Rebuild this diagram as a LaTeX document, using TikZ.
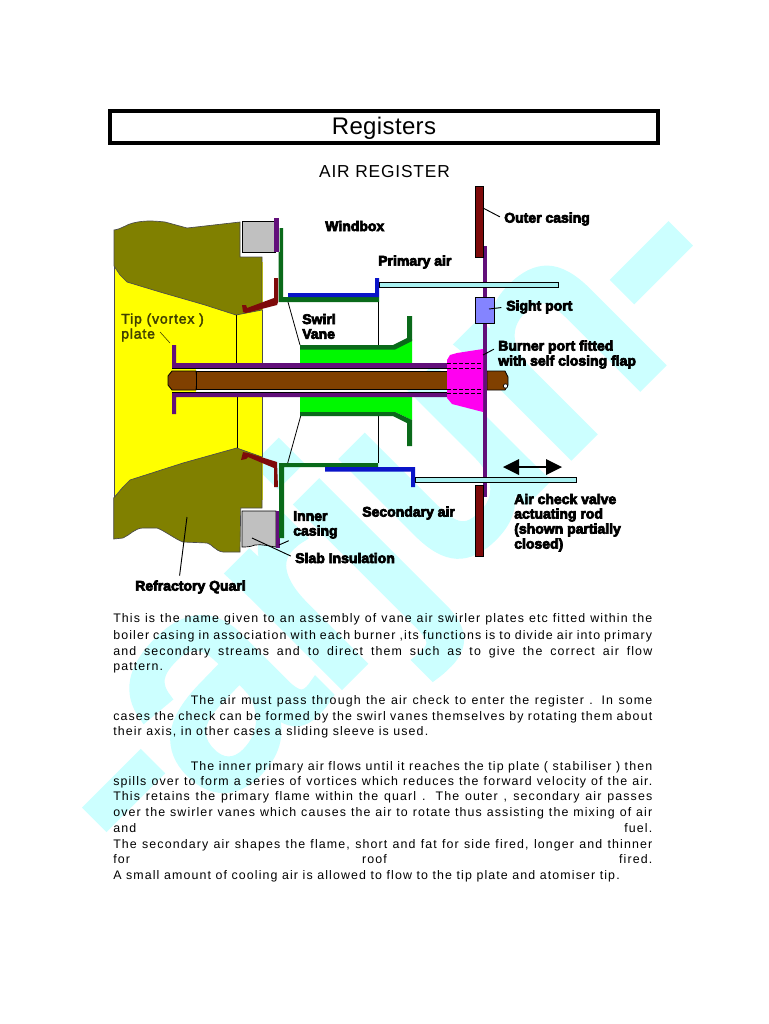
\documentclass[tikz,border=0pt]{standalone}
\usepackage{fontspec}
\setmainfont{Liberation Sans}
\newfontfamily\bodyf[LetterSpace=9]{Liberation Sans}
\newfontfamily\titlef[LetterSpace=1.5]{Liberation Sans}
\newfontfamily\subf[LetterSpace=4.8]{Liberation Sans}
\newfontfamily\labf[FakeBold=5]{Liberation Sans Bold}
\newfontfamily\tipf[LetterSpace=6,FakeBold=2.5]{Liberation Sans}
\newfontfamily\wmf[FakeBold=4]{Liberation Sans}
\definecolor{wm}{HTML}{CCFFFF}
\definecolor{tipy}{HTML}{FFFF00}
\definecolor{quarl}{HTML}{808000}
\definecolor{dred}{HTML}{7E0A0A}
\definecolor{purp}{HTML}{620F7A}
\definecolor{dgreen}{HTML}{0A6A1A}
\definecolor{brgreen}{HTML}{00F800}
\definecolor{dblue}{HTML}{0A14C8}
\definecolor{rodc}{HTML}{A8F0F0}
\definecolor{magn}{HTML}{FF00F0}
\definecolor{brn}{HTML}{804000}
\definecolor{slab}{HTML}{C0C0C0}
\definecolor{port}{HTML}{8484FF}
\tikzset{
  lab/.style={anchor=west,inner sep=0pt,font=\labf\fontsize{10.5}{11}\selectfont,text=black},
  tiplab/.style={anchor=west,inner sep=0pt,font=\tipf\fontsize{10.5}{11}\selectfont,text=black!50!quarl},
  bl/.style={anchor=base west,inner sep=0pt},
  leader/.style={draw=black,line width=0.7pt,shorten >=3.5pt},
  thin line/.style={draw=black,line width=0.6pt},
  edge/.style={draw=black!70,line width=0.5pt},
  rod/.style={fill=rodc,draw=black,line width=0.55pt},
}
\newcommand{\jl}[1]{\hbox to 404.25pt{\bodyf\fontsize{9.3}{11}\selectfont #1}}
\newcommand{\il}[1]{\hbox to 346.1pt{\bodyf\fontsize{9.3}{11}\selectfont #1}}
\newcommand{\pl}[1]{\hbox{\bodyf\fontsize{9.3}{11}\selectfont #1}}
\begin{document}
\begin{tikzpicture}[x=0.75pt,y=-0.75pt]
\useasboundingbox (0,0) rectangle (768,1024);
\fill[white] (0,0) rectangle (768,1024);
% watermark
\node[inner sep=0pt,rotate=45,text=wm,font=\wmf\fontsize{219}{219}\selectfont] (wmark) at (389,528) {-arjun-};
% title
\node[draw=black,line width=2.4pt,minimum width=411pt,minimum height=24pt,inner sep=0pt] (titlebox) at (384,127) {};
\node[font=\titlef\fontsize{18}{20}\selectfont,inner sep=0pt] (title) at (384,128) {Registers};
\node[font=\subf\fontsize{13}{14}\selectfont,inner sep=0pt] (sub) at (384.5,171.5) {AIR REGISTER};
% yellow tip region
\fill[tipy] (114,262) -- (262.5,262) -- (262.5,500) -- (114,500) -- cycle;
\draw[edge] (114,262) -- (114,500);
\fill[white] (196,369) rectangle (262.5,392);
% quarl
\draw[edge,fill=quarl] (114,230) .. controls (122,229) and (127,224) .. (133,223) .. controls (145,220) and (155,221) .. (165,222) -- (187,228) -- (205,226) -- (240,222)
  -- (240,257) -- (262,257) -- (262,310) -- (236,315) -- (205,305) -- (160,292) -- (127,282) -- (120,275) -- (114,266) -- cycle;
\draw[edge,fill=quarl] (236.7,448) -- (262,457) -- (262,508) -- (240.7,508) -- (240,552) -- (223,552)
  .. controls (215,551) and (212,544) .. (207,543) -- (183,542) .. controls (175,539) and (165,531) .. (157,528)
  -- (143,528) .. controls (135,528) and (130,535) .. (123,538) -- (113.7,539) -- (113.7,498) -- (123,487) -- (130,480) -- (183,463) -- cycle;
\draw[thin line] (236,315) -- (236,363) (237.5,397) -- (237.5,448);
\draw[edge] (262.5,310) -- (262.5,363) (262.5,397) -- (262.5,457);
% white gap left of vane
\fill[white] (263,363) rectangle (300,397);
% slabs and casing
\draw[black,line width=0.5pt,fill=slab] (242,221) -- (275,221) -- (275,252) -- (242,252) -- cycle;
\fill[purp] (274,218) rectangle (279,252);
\draw[black,line width=0.5pt,fill=slab] (242,511) -- (276,511) -- (276,547) .. controls (268,546) and (262,544) .. (255,545) .. controls (250,547) and (246,547) .. (242,547) -- cycle;
\fill[purp] (276,511) rectangle (280,548);
% dark green casing
\fill[dgreen] (279.5,228) -- (283,228) -- (283,297) -- (379,297) -- (379,302) -- (278.5,302) -- (278.5,252) -- (279.5,252) -- cycle;
\fill[dgreen] (279,463) -- (378,463) -- (378,467) -- (284,467) -- (284,538) -- (279,538) -- cycle;
\fill[dblue] (288,293) -- (375,293) -- (375,278) -- (379,278) -- (379,297) -- (288,297) -- cycle;
\fill[dblue] (325,467) -- (415,467) -- (415,487) -- (411,487) -- (411,471.5) -- (325,471.5) -- cycle;
% dark red brackets
\fill[dred] (274,278) -- (278,278) -- (278,302) -- (277,305) -- (246,313) -- (243,312) -- (242,305) -- (246,305) -- (247,308) -- (274,298) -- cycle;
\fill[dred] (241,460) -- (243,452) -- (248,453) -- (277,462) -- (278,487) -- (274,487) -- (274,468) -- (248,457) -- (246,459) -- cycle;
% swirl lines
\draw[thin line] (288,302) -- (300,345) (300.7,416) -- (287.7,463);
\draw[thin line] (378,302) -- (378,345) (378,416) -- (378,463);
% vane
\fill[brgreen] (300,349) -- (395,349) -- (407,342) -- (412,339) -- (412,363) -- (300,363) -- cycle;
\fill[brgreen] (300,397) -- (412,397) -- (412,420) -- (395,412) -- (300,412) -- cycle;
\fill[dgreen] (300,345) -- (393,345) -- (407,338) -- (407,316) -- (412,316) -- (412,341) -- (395,349.5) -- (300,349.5) -- cycle;
\fill[dgreen] (300,412) -- (395,412) -- (412,420) -- (412,446) -- (407,446) -- (407,423) -- (393,416) -- (300,416) -- cycle;
% tube
\fill[purp] (172,345) -- (176,345) -- (176,363) -- (448,363) -- (448,368) -- (172,368) -- cycle;
\fill[purp] (172,393) -- (448,393) -- (448,397) -- (176,397) -- (176,414) -- (172,414) -- cycle;
\draw[black,line width=0.5pt] (172,368.5) -- (448,368.5) (172,392.5) -- (448,392.5);
% rod
\draw[black,line width=0.6pt,fill=brn] (172,371) -- (196,371) -- (197,380) -- (196,390) -- (172,390) -- (168,385) -- (168,376) -- cycle;
\draw[black,line width=0.6pt,fill=brn] (196,371) -- (447,371) -- (447,389.5) -- (196,389.5) -- cycle;
\draw[black,line width=0.6pt,fill=brn] (487,371) -- (505,371) -- (508,377) -- (508,385) -- (505,390) -- (487,390) -- cycle;
\draw[black,line width=0.5pt,fill=white] (505.5,386) circle (2.2);
% casing wall and outer casing
\fill[purp] (483,246) rectangle (487,497);
\draw[black,line width=0.4pt,fill=dred] (475,186) rectangle (483,257);
\draw[black,line width=0.4pt,fill=dred] (475,485) rectangle (483,556);
% magenta port
\fill[magn] (447,360) -- (450,355) -- (457,353) -- (483,349) -- (483,412) -- (452,404) -- (447,398) -- cycle;
\draw[black,line width=0.4pt,dash pattern=on 3pt off 1.5pt] (447,363) -- (483,363) (447,368) -- (483,368) (447,389) -- (483,389) (447,393) -- (483,393);
% rods
\draw[rod] (379,282.5) rectangle (558,287);
\draw[rod] (415,477.5) rectangle (576,482.5);
% sight port
\draw[black,line width=0.5pt,fill=port] (475,297) rectangle (494,323);
% arrow
\coordinate (arL) at (503,467);
\coordinate (arR) at (562,467);
\fill[black] (arL) -- (519,459) -- (519,475) -- cycle;
\fill[black] (arR) -- (546,459) -- (546,475) -- cycle;
\draw[black,line width=1.7pt] (519,467) -- (546,467);
% labels
\node[lab] (windbox) at (325,226) {Windbox};
\node[lab] (outer) at (504,219) {Outer casing};
\node[lab] (primary) at (378,262) {Primary air};
\node[lab] (sight) at (506,307) {Sight port};
\node[lab] (burner1) at (498,347) {Burner port fitted};
\node[lab] (burner2) at (498,362) {with self closing flap};
\node[lab] (swirl) at (302,319) {Swirl};
\node[lab] (vane) at (302,334) {Vane};
\node[tiplab] (tip1) at (121,320) {Tip (vortex )};
\node[tiplab] (tip2) at (121,335) {plate};
\node[lab] (inner) at (293,516) {Inner};
\node[lab] (casing) at (293,532) {casing};
\node[lab] (slabl) at (295,558) {Slab Insulation};
\node[lab] (refr) at (135,587) {Refractory Quarl};
\node[lab] (second) at (362,513) {Secondary air};
\node[lab] (check1) at (514,499) {Air check valve};
\node[lab] (check2) at (514,515) {actuating rod};
\node[lab] (check3) at (514,530) {(shown partially};
\node[lab] (check4) at (514,545) {closed)};
% leaders
\coordinate (cOuter) at (483,208);
\coordinate (cSight) at (489,309);
\coordinate (cBurn) at (483,355);
\coordinate (cInner) at (279,545);
\coordinate (cSlab) at (252,538);
\coordinate (cRefr) at (187,517);
\coordinate (cTipA) at (160,332);
\coordinate (cTipB) at (170,343);
\draw[leader] (cOuter) -- (outer.west);
\draw[leader] (cSight) -- (sight.west);
\draw[leader] (cBurn) -- (burner1.west);
\draw[leader] (cInner) -- (casing.south west);
\draw[leader] (cSlab) -- (slabl.west);
\draw[leader] (cRefr) -- (refr.north -| 179,0);
\draw[black!60!quarl,line width=0.4pt] (cTipA) -- (cTipB);
% body
\node[bl] (l1) at (113,622.7) {\jl{This is the name given to an assembly of vane air swirler plates etc fitted within the}};
\node[bl] (l2) at (113,639) {\jl{boiler casing in association with each burner ,its functions is to divide air into primary}};
\node[bl] (l3) at (113,655) {\jl{and secondary streams and to direct them such as to give the correct air flow}};
\node[bl] (l4) at (113,670.7) {\pl{pattern.}};
\node[bl] (l5) at (190.5,704) {\il{The air must pass through the air check to enter the register . In some}};
\node[bl] (l6) at (113,720) {\jl{cases the check can be formed by the swirl vanes themselves by rotating them about}};
\node[bl] (l7) at (113,735.7) {\pl{their axis, in other cases a sliding sleeve is used.}};
\node[bl] (l8) at (190.5,770) {\il{The inner primary air flows until it reaches the tip plate ( stabiliser ) then}};
\node[bl] (l9) at (113,785) {\jl{spills over to form a series of vortices which reduces the forward velocity of the air.}};
\node[bl] (l10) at (113,800.7) {\jl{This retains the primary flame within the quarl . The outer , secondary air passes}};
\node[bl] (l11) at (113,816) {\jl{over the swirler vanes which causes the air to rotate thus assisting the mixing of air}};
\node[bl] (l12) at (113,832.7) {\jl{and\hfill fuel.}};
\node[bl] (l13) at (113,848) {\jl{The secondary air shapes the flame, short and fat for side fired, longer and thinner}};
\node[bl] (l14) at (113,863.7) {\jl{for\hfill roof\hfill fired.}};
\node[bl] (l15) at (113,879) {\pl{A small amount of cooling air is allowed to flow to the tip plate and atomiser tip.}};
\end{tikzpicture}
\end{document}
